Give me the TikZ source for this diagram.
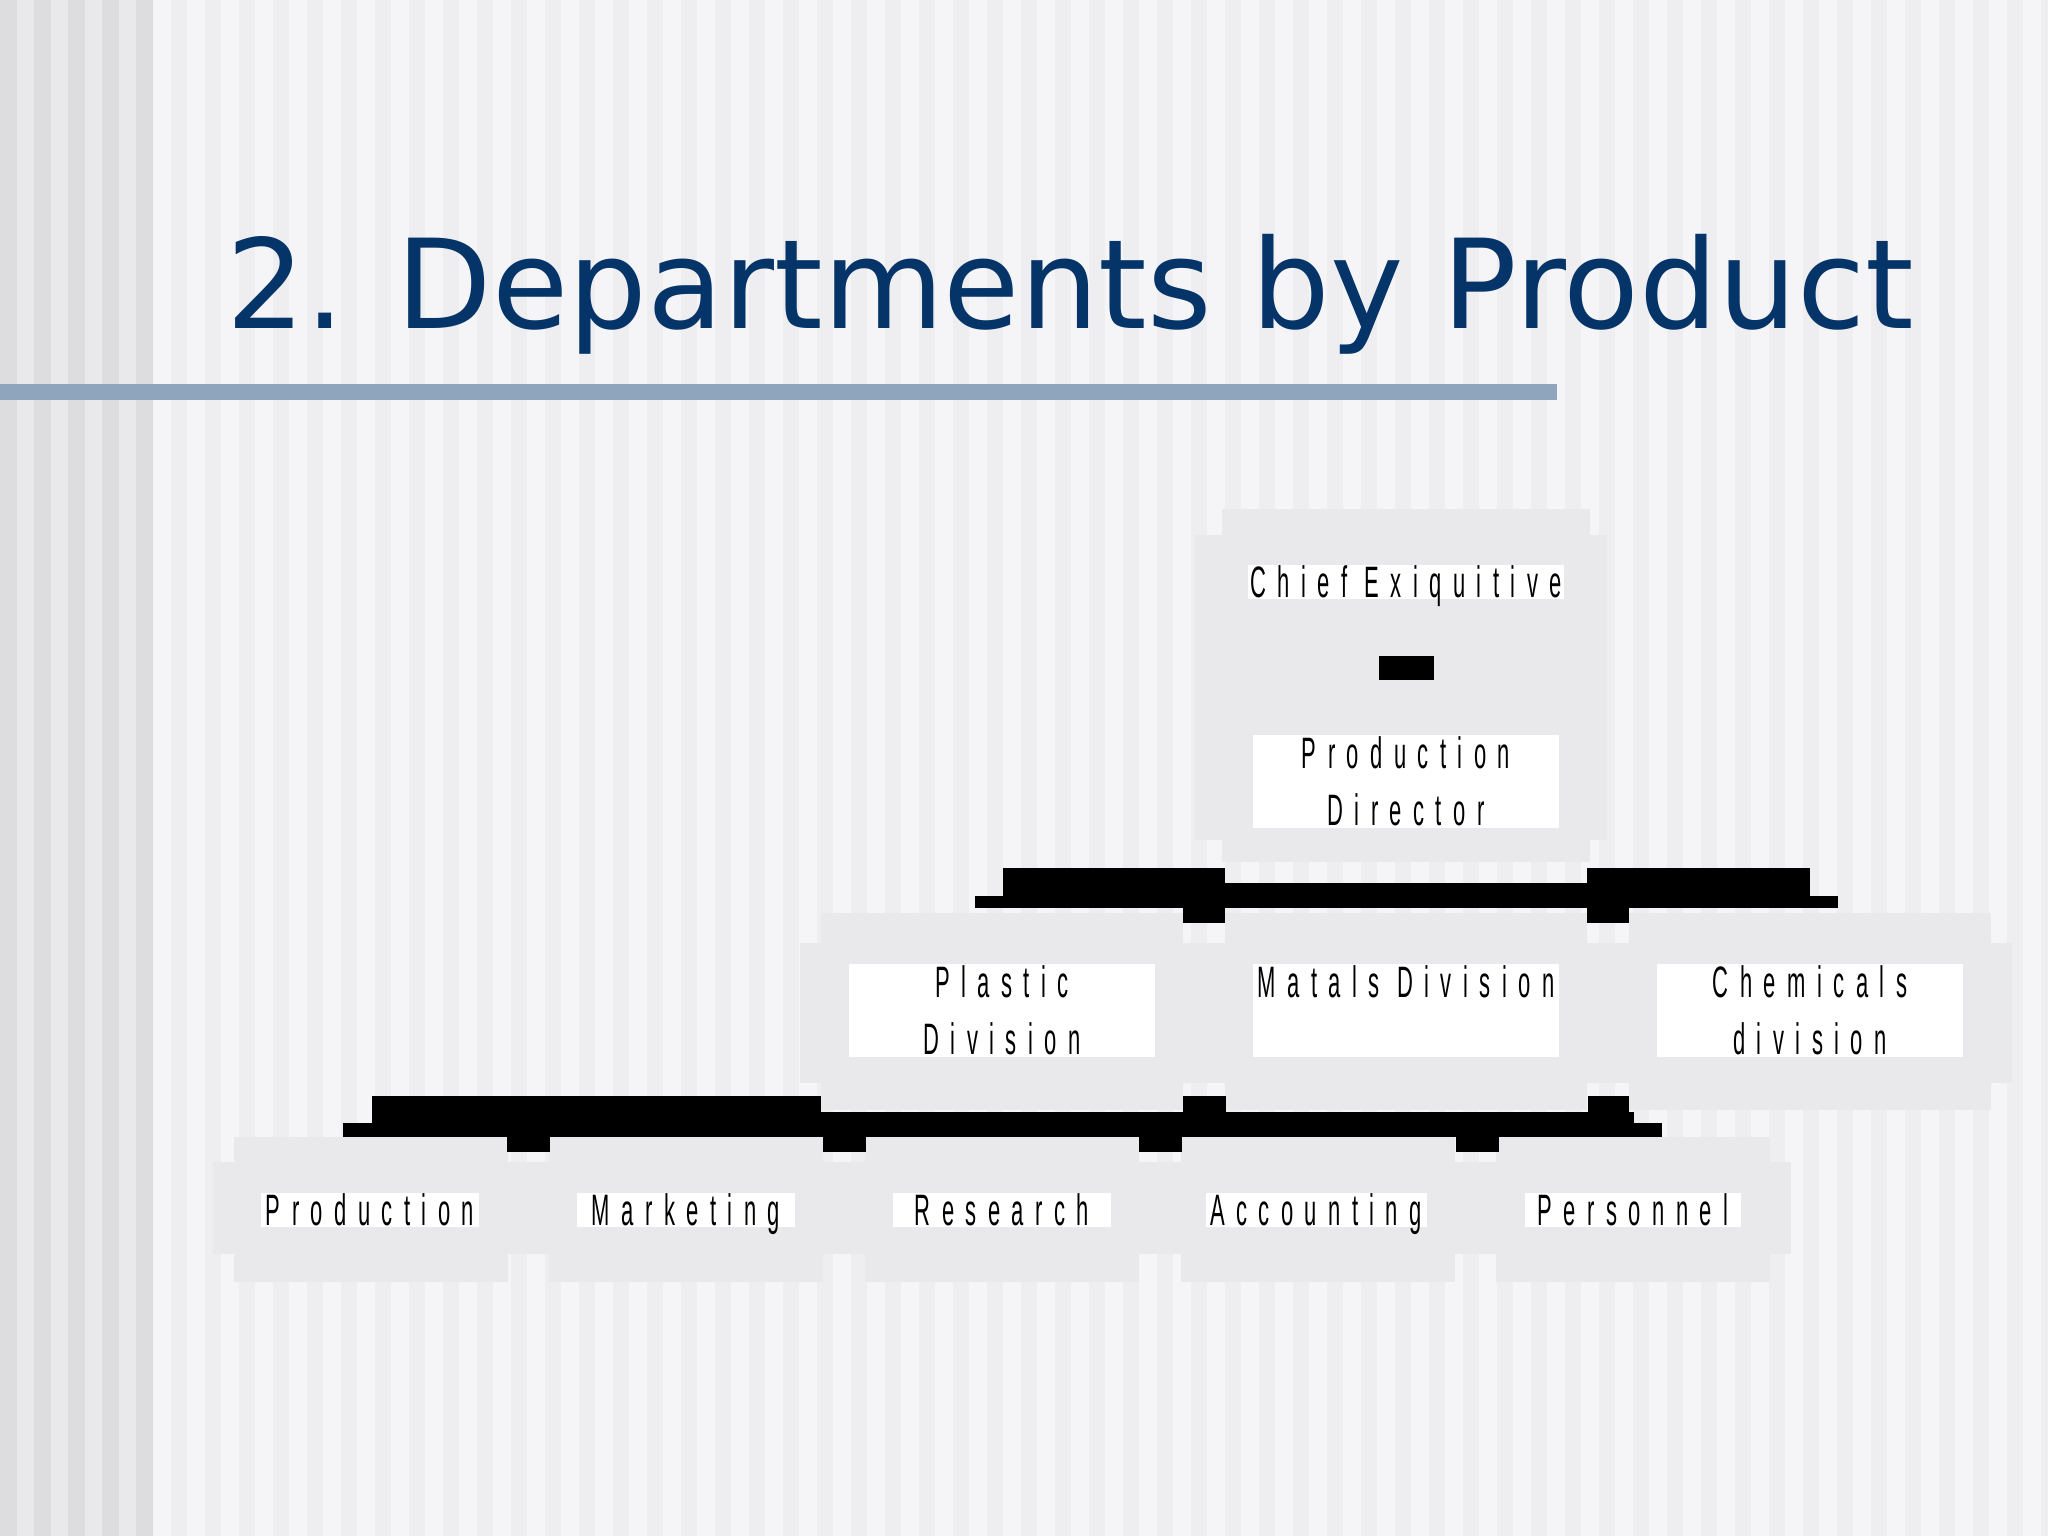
\documentclass[tikz,border=0pt]{standalone}
\usepackage{fontspec}
\setmainfont{DejaVu Sans}
\newfontfamily\orgfont[FakeStretch=0.5,LetterSpace=26]{Liberation Sans}
\definecolor{page}{RGB}{238,237,240}
\definecolor{sidedark}{RGB}{221,220,223}
\definecolor{sidelight}{RGB}{233,233,235}
\definecolor{stripe}{RGB}{245,244,247}
\definecolor{panel}{RGB}{233,232,235}
\definecolor{rulecol}{RGB}{143,165,190}
\definecolor{titlecol}{RGB}{5,52,104}
\begin{document}
\begin{tikzpicture}[x=1pt,y=-1pt,
  title/.style={anchor=base west,inner sep=0pt,text=titlecol,font=\fontsize{124}{140}\selectfont},
  unit/.style={fill=white,inner sep=0pt,minimum height=34pt,text height=32pt,text depth=2pt,font=\orgfont\fontsize{44}{57}\selectfont},
  unitii/.style={fill=white,inner sep=0pt,minimum height=93pt,minimum width=306pt,align=center,font=\orgfont\fontsize{44}{57}\selectfont},
  bar/.style={fill=black}]
 \useasboundingbox (0,0) rectangle (2048,1536);
 % background
 \fill[page] (0,0) rectangle (2048,1536);
 \fill[sidelight] (0,0) rectangle (153,1536);
 \foreach \x in {0,34,...,136} \fill[sidedark] (\x,0) rectangle +(17,1536);
 \foreach \x in {153,187,...,2040} \fill[stripe] (\x,0) rectangle +(18,1536);
 \fill[rulecol] (0,384) rectangle (1557,400);
 \node[title] (title) at (226,328) {2. Departments by Product};
 % panels behind the boxes
 \fill[panel] (1222,509) rectangle (1590,862);
 \fill[panel] (1195,535) rectangle (1607,840);
 \foreach \c in {1002,1406,1810}{
  \fill[panel] (\c-181,913) rectangle (\c+181,1110);
  \fill[panel] (\c-202,943) rectangle (\c+202,1083);
 }
 \foreach \c in {371,686,1002,1318,1633}{
  \fill[panel] (\c-137,1137) rectangle (\c+137,1282);
  \fill[panel] (\c-158,1162) rectangle (\c+158,1254);
 }
 % boxes
 \node[unit,minimum width=316pt] (ceo) at (1406,582) {Chief Exiquitive};
 \node[unitii] (pd) at (1406,781) {Production\\Director};
 \node[unitii] (plastic) at (1002,1010) {Plastic\\Division};
 \node[unitii] (matals) at (1406,1010) {Matals Division\\\mbox{}};
 \node[unitii] (chem) at (1810,1010) {Chemicals\\division};
 \node[unit,minimum width=218pt] (prod) at (370,1210) {Production};
 \node[unit,minimum width=218pt] (mkt) at (686,1210) {Marketing};
 \node[unit,minimum width=218pt] (res) at (1002,1210) {Research};
 \node[unit,minimum width=221pt] (acc) at (1316,1210) {Accounting};
 \node[unit,minimum width=216pt] (pers) at (1633,1210) {Personnel};
 % connectors
 \fill[bar] (1379,656) rectangle (1434,680);
 \fill[bar] (1003,868) rectangle (1225,908);
 \fill[bar] (1225,883) rectangle (1587,908);
 \fill[bar] (1587,868) rectangle (1810,908);
 \fill[bar] (975,896) rectangle (1003,908);
 \fill[bar] (1810,896) rectangle (1838,908);
 \fill[bar] (1183,908) rectangle (1225,923);
 \fill[bar] (1587,908) rectangle (1629,923);
 \fill[bar] (372,1096) rectangle (821,1137);
 \fill[bar] (343,1123) rectangle (372,1137);
 \fill[bar] (821,1112) rectangle (1634,1137);
 \fill[bar] (1183,1096) rectangle (1226,1112);
 \fill[bar] (1588,1096) rectangle (1629,1112);
 \fill[bar] (1629,1123) rectangle (1662,1137);
 \foreach \x in {507,823,1139,1456} \fill[bar] (\x,1137) rectangle +(43,15);
\end{tikzpicture}
\end{document}
